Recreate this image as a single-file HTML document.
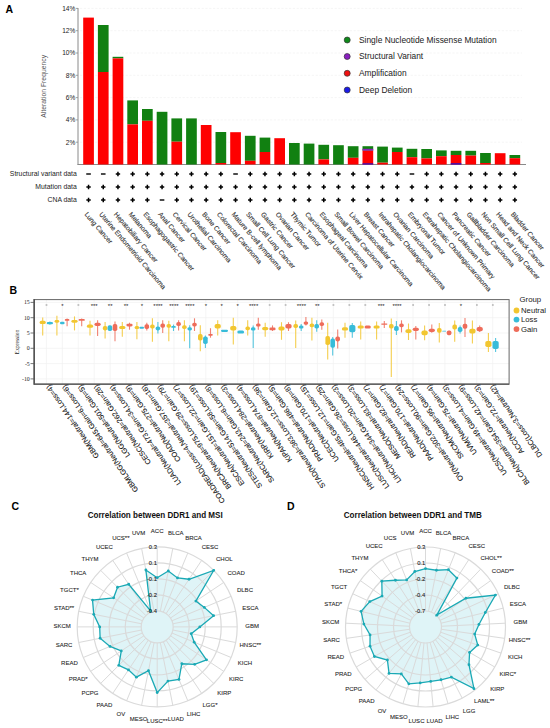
<!DOCTYPE html>
<html><head><meta charset="utf-8"><style>html,body{margin:0;padding:0;background:#fff;}svg{display:block;}</style></head>
<body><svg width="550" height="728" viewBox="0 0 550 728"><text x="5.5" y="13" font-family="Liberation Sans" font-weight="700" font-size="10.5" fill="#000">A</text>
<line x1="80" y1="142.2" x2="522" y2="142.2" stroke="#f2f2f2" stroke-width="0.8" stroke-dasharray="2.2,1.6"/>
<line x1="80" y1="119.9" x2="522" y2="119.9" stroke="#f2f2f2" stroke-width="0.8" stroke-dasharray="2.2,1.6"/>
<line x1="80" y1="97.6" x2="522" y2="97.6" stroke="#f2f2f2" stroke-width="0.8" stroke-dasharray="2.2,1.6"/>
<line x1="80" y1="75.3" x2="522" y2="75.3" stroke="#f2f2f2" stroke-width="0.8" stroke-dasharray="2.2,1.6"/>
<line x1="80" y1="53.0" x2="522" y2="53.0" stroke="#f2f2f2" stroke-width="0.8" stroke-dasharray="2.2,1.6"/>
<line x1="80" y1="30.7" x2="522" y2="30.7" stroke="#f2f2f2" stroke-width="0.8" stroke-dasharray="2.2,1.6"/>
<line x1="80" y1="8.4" x2="522" y2="8.4" stroke="#f2f2f2" stroke-width="0.8" stroke-dasharray="2.2,1.6"/>
<line x1="78" y1="8" x2="78" y2="164.9" stroke="#8a8a8a" stroke-width="1"/>
<line x1="77.5" y1="164.5" x2="526" y2="164.5" stroke="#8a8a8a" stroke-width="1"/>
<line x1="76" y1="142.2" x2="78" y2="142.2" stroke="#8a8a8a" stroke-width="0.8"/>
<text x="75.3" y="144.5" font-family="Liberation Sans" font-size="6.55" fill="#222" text-anchor="end">2%</text>
<line x1="76" y1="119.9" x2="78" y2="119.9" stroke="#8a8a8a" stroke-width="0.8"/>
<text x="75.3" y="122.2" font-family="Liberation Sans" font-size="6.55" fill="#222" text-anchor="end">4%</text>
<line x1="76" y1="97.6" x2="78" y2="97.6" stroke="#8a8a8a" stroke-width="0.8"/>
<text x="75.3" y="99.9" font-family="Liberation Sans" font-size="6.55" fill="#222" text-anchor="end">6%</text>
<line x1="76" y1="75.3" x2="78" y2="75.3" stroke="#8a8a8a" stroke-width="0.8"/>
<text x="75.3" y="77.6" font-family="Liberation Sans" font-size="6.55" fill="#222" text-anchor="end">8%</text>
<line x1="76" y1="53.0" x2="78" y2="53.0" stroke="#8a8a8a" stroke-width="0.8"/>
<text x="75.3" y="55.3" font-family="Liberation Sans" font-size="6.55" fill="#222" text-anchor="end">10%</text>
<line x1="76" y1="30.7" x2="78" y2="30.7" stroke="#8a8a8a" stroke-width="0.8"/>
<text x="75.3" y="33.0" font-family="Liberation Sans" font-size="6.55" fill="#222" text-anchor="end">12%</text>
<line x1="76" y1="8.4" x2="78" y2="8.4" stroke="#8a8a8a" stroke-width="0.8"/>
<text x="75.3" y="10.7" font-family="Liberation Sans" font-size="6.55" fill="#222" text-anchor="end">14%</text>
<text transform="translate(46.3,86.3) rotate(-90)" font-family="Liberation Sans" font-size="6.8" fill="#555" text-anchor="middle">Alteration Frequency</text>
<rect x="83.20" y="17.6" width="10.7" height="146.90" fill="#fe0000"/>
<rect x="97.90" y="25" width="10.7" height="47.00" fill="#118011"/>
<rect x="97.90" y="72" width="10.7" height="92.50" fill="#fe0000"/>
<rect x="112.60" y="56.8" width="10.7" height="1.60" fill="#118011"/>
<rect x="112.60" y="58.4" width="10.7" height="106.10" fill="#fe0000"/>
<rect x="127.30" y="100.4" width="10.7" height="24.00" fill="#118011"/>
<rect x="127.30" y="124.4" width="10.7" height="40.10" fill="#fe0000"/>
<rect x="142.00" y="109" width="10.7" height="11.80" fill="#118011"/>
<rect x="142.00" y="120.8" width="10.7" height="43.70" fill="#fe0000"/>
<rect x="156.70" y="111.8" width="10.7" height="52.70" fill="#118011"/>
<rect x="171.40" y="118.4" width="10.7" height="23.30" fill="#118011"/>
<rect x="171.40" y="141.7" width="10.7" height="22.80" fill="#fe0000"/>
<rect x="186.10" y="118.4" width="10.7" height="46.10" fill="#118011"/>
<rect x="200.80" y="125" width="10.7" height="39.50" fill="#fe0000"/>
<rect x="215.50" y="132" width="10.7" height="31.00" fill="#118011"/>
<rect x="215.50" y="163" width="10.7" height="1.50" fill="#fe0000"/>
<rect x="230.20" y="132.2" width="10.7" height="32.30" fill="#fe0000"/>
<rect x="244.90" y="135.8" width="10.7" height="25.00" fill="#118011"/>
<rect x="244.90" y="160.8" width="10.7" height="3.70" fill="#fe0000"/>
<rect x="259.60" y="137.6" width="10.7" height="14.40" fill="#118011"/>
<rect x="259.60" y="152" width="10.7" height="12.50" fill="#fe0000"/>
<rect x="274.30" y="138.2" width="10.7" height="26.30" fill="#fe0000"/>
<rect x="289.00" y="143" width="10.7" height="21.50" fill="#118011"/>
<rect x="303.70" y="143.6" width="10.7" height="20.90" fill="#118011"/>
<rect x="318.40" y="144.8" width="10.7" height="14.60" fill="#118011"/>
<rect x="318.40" y="159.4" width="10.7" height="5.10" fill="#fe0000"/>
<rect x="333.10" y="145.2" width="10.7" height="19.30" fill="#118011"/>
<rect x="347.80" y="146.2" width="10.7" height="11.60" fill="#118011"/>
<rect x="347.80" y="157.8" width="10.7" height="6.70" fill="#fe0000"/>
<rect x="362.50" y="146.2" width="10.7" height="4.40" fill="#118011"/>
<rect x="362.50" y="150.6" width="10.7" height="13.90" fill="#fe0000"/>
<rect x="377.20" y="146.6" width="10.7" height="16.10" fill="#118011"/>
<rect x="377.20" y="162.7" width="10.7" height="1.80" fill="#fe0000"/>
<rect x="391.90" y="147.6" width="10.7" height="4.40" fill="#118011"/>
<rect x="391.90" y="152" width="10.7" height="12.50" fill="#fe0000"/>
<rect x="406.60" y="148.8" width="10.7" height="8.40" fill="#118011"/>
<rect x="406.60" y="157.2" width="10.7" height="7.30" fill="#fe0000"/>
<rect x="421.30" y="149" width="10.7" height="9.40" fill="#118011"/>
<rect x="421.30" y="158.4" width="10.7" height="6.10" fill="#fe0000"/>
<rect x="436.00" y="150.4" width="10.7" height="5.80" fill="#118011"/>
<rect x="436.00" y="156.2" width="10.7" height="8.30" fill="#fe0000"/>
<rect x="450.70" y="150.8" width="10.7" height="4.20" fill="#118011"/>
<rect x="450.70" y="155" width="10.7" height="9.50" fill="#fe0000"/>
<rect x="465.40" y="150.8" width="10.7" height="4.80" fill="#118011"/>
<rect x="465.40" y="155.6" width="10.7" height="8.90" fill="#fe0000"/>
<rect x="480.10" y="153" width="10.7" height="10.00" fill="#118011"/>
<rect x="480.10" y="163" width="10.7" height="1.50" fill="#fe0000"/>
<rect x="494.80" y="153.2" width="10.7" height="11.30" fill="#fe0000"/>
<rect x="509.50" y="155" width="10.7" height="3.20" fill="#118011"/>
<rect x="509.50" y="158.2" width="10.7" height="6.30" fill="#fe0000"/>
<rect x="362.50" y="148.8" width="10.7" height="1.8" fill="#8e1fb8"/>
<rect x="362.50" y="163.4" width="10.7" height="1.1" fill="#1010e0"/>
<rect x="450.70" y="163.3" width="10.7" height="1.2" fill="#1010e0"/>
<circle cx="347.2" cy="40" r="3" fill="#0f8a1a" stroke="#333" stroke-width="0.7"/>
<text transform="translate(359,42.5) scale(1,1.07)" font-family="Liberation Sans" font-size="8.4" fill="#222">Single Nucleotide Missense Mutation</text>
<circle cx="347.2" cy="56.5" r="3" fill="#8a1fc0" stroke="#333" stroke-width="0.7"/>
<text transform="translate(359,59.0) scale(1,1.07)" font-family="Liberation Sans" font-size="8.4" fill="#222">Structural Variant</text>
<circle cx="347.2" cy="73.3" r="3" fill="#f01010" stroke="#333" stroke-width="0.7"/>
<text transform="translate(359,75.8) scale(1,1.07)" font-family="Liberation Sans" font-size="8.4" fill="#222">Amplification</text>
<circle cx="347.2" cy="90" r="3" fill="#1a1ae8" stroke="#333" stroke-width="0.7"/>
<text transform="translate(359,92.5) scale(1,1.07)" font-family="Liberation Sans" font-size="8.4" fill="#222">Deep Deletion</text>
<text x="76.8" y="176.4" font-family="Liberation Sans" font-size="6.85" fill="#222" text-anchor="end">Structural variant data</text>
<text x="76.8" y="189.4" font-family="Liberation Sans" font-size="6.85" fill="#222" text-anchor="end">Mutation data</text>
<text x="76.8" y="202.4" font-family="Liberation Sans" font-size="6.85" fill="#222" text-anchor="end">CNA data</text>
<rect x="86.25" y="173.3" width="4.6" height="1.4" fill="#000"/>
<path d="M86.35 187 H90.75 M88.55 184.8 V189.2" stroke="#000" stroke-width="1.5"/>
<path d="M86.35 200 H90.75 M88.55 197.8 V202.2" stroke="#000" stroke-width="1.5"/>
<rect x="100.95" y="173.3" width="4.6" height="1.4" fill="#000"/>
<path d="M101.05 187 H105.45 M103.25 184.8 V189.2" stroke="#000" stroke-width="1.5"/>
<path d="M101.05 200 H105.45 M103.25 197.8 V202.2" stroke="#000" stroke-width="1.5"/>
<path d="M115.75 174 H120.15 M117.95 171.8 V176.2" stroke="#000" stroke-width="1.5"/>
<path d="M115.75 187 H120.15 M117.95 184.8 V189.2" stroke="#000" stroke-width="1.5"/>
<path d="M115.75 200 H120.15 M117.95 197.8 V202.2" stroke="#000" stroke-width="1.5"/>
<path d="M130.45 174 H134.85 M132.65 171.8 V176.2" stroke="#000" stroke-width="1.5"/>
<path d="M130.45 187 H134.85 M132.65 184.8 V189.2" stroke="#000" stroke-width="1.5"/>
<path d="M130.45 200 H134.85 M132.65 197.8 V202.2" stroke="#000" stroke-width="1.5"/>
<path d="M145.15 174 H149.55 M147.35 171.8 V176.2" stroke="#000" stroke-width="1.5"/>
<path d="M145.15 187 H149.55 M147.35 184.8 V189.2" stroke="#000" stroke-width="1.5"/>
<path d="M145.15 200 H149.55 M147.35 197.8 V202.2" stroke="#000" stroke-width="1.5"/>
<path d="M159.85 174 H164.25 M162.05 171.8 V176.2" stroke="#000" stroke-width="1.5"/>
<path d="M159.85 187 H164.25 M162.05 184.8 V189.2" stroke="#000" stroke-width="1.5"/>
<rect x="159.75" y="199.3" width="4.6" height="1.4" fill="#000"/>
<path d="M174.55 174 H178.95 M176.75 171.8 V176.2" stroke="#000" stroke-width="1.5"/>
<path d="M174.55 187 H178.95 M176.75 184.8 V189.2" stroke="#000" stroke-width="1.5"/>
<path d="M174.55 200 H178.95 M176.75 197.8 V202.2" stroke="#000" stroke-width="1.5"/>
<path d="M189.25 174 H193.65 M191.45 171.8 V176.2" stroke="#000" stroke-width="1.5"/>
<path d="M189.25 187 H193.65 M191.45 184.8 V189.2" stroke="#000" stroke-width="1.5"/>
<path d="M189.25 200 H193.65 M191.45 197.8 V202.2" stroke="#000" stroke-width="1.5"/>
<path d="M203.95 174 H208.35 M206.15 171.8 V176.2" stroke="#000" stroke-width="1.5"/>
<path d="M203.95 187 H208.35 M206.15 184.8 V189.2" stroke="#000" stroke-width="1.5"/>
<path d="M203.95 200 H208.35 M206.15 197.8 V202.2" stroke="#000" stroke-width="1.5"/>
<path d="M218.65 174 H223.05 M220.85 171.8 V176.2" stroke="#000" stroke-width="1.5"/>
<path d="M218.65 187 H223.05 M220.85 184.8 V189.2" stroke="#000" stroke-width="1.5"/>
<path d="M218.65 200 H223.05 M220.85 197.8 V202.2" stroke="#000" stroke-width="1.5"/>
<rect x="233.25" y="173.3" width="4.6" height="1.4" fill="#000"/>
<path d="M233.35 187 H237.75 M235.55 184.8 V189.2" stroke="#000" stroke-width="1.5"/>
<path d="M233.35 200 H237.75 M235.55 197.8 V202.2" stroke="#000" stroke-width="1.5"/>
<path d="M248.05 174 H252.45 M250.25 171.8 V176.2" stroke="#000" stroke-width="1.5"/>
<path d="M248.05 187 H252.45 M250.25 184.8 V189.2" stroke="#000" stroke-width="1.5"/>
<path d="M248.05 200 H252.45 M250.25 197.8 V202.2" stroke="#000" stroke-width="1.5"/>
<path d="M262.75 174 H267.15 M264.95 171.8 V176.2" stroke="#000" stroke-width="1.5"/>
<path d="M262.75 187 H267.15 M264.95 184.8 V189.2" stroke="#000" stroke-width="1.5"/>
<path d="M262.75 200 H267.15 M264.95 197.8 V202.2" stroke="#000" stroke-width="1.5"/>
<path d="M277.45 174 H281.85 M279.65 171.8 V176.2" stroke="#000" stroke-width="1.5"/>
<path d="M277.45 187 H281.85 M279.65 184.8 V189.2" stroke="#000" stroke-width="1.5"/>
<path d="M277.45 200 H281.85 M279.65 197.8 V202.2" stroke="#000" stroke-width="1.5"/>
<path d="M292.15 174 H296.55 M294.35 171.8 V176.2" stroke="#000" stroke-width="1.5"/>
<path d="M292.15 187 H296.55 M294.35 184.8 V189.2" stroke="#000" stroke-width="1.5"/>
<path d="M292.15 200 H296.55 M294.35 197.8 V202.2" stroke="#000" stroke-width="1.5"/>
<path d="M306.85 174 H311.25 M309.05 171.8 V176.2" stroke="#000" stroke-width="1.5"/>
<path d="M306.85 187 H311.25 M309.05 184.8 V189.2" stroke="#000" stroke-width="1.5"/>
<path d="M306.85 200 H311.25 M309.05 197.8 V202.2" stroke="#000" stroke-width="1.5"/>
<path d="M321.55 174 H325.95 M323.75 171.8 V176.2" stroke="#000" stroke-width="1.5"/>
<path d="M321.55 187 H325.95 M323.75 184.8 V189.2" stroke="#000" stroke-width="1.5"/>
<path d="M321.55 200 H325.95 M323.75 197.8 V202.2" stroke="#000" stroke-width="1.5"/>
<path d="M336.25 174 H340.65 M338.45 171.8 V176.2" stroke="#000" stroke-width="1.5"/>
<path d="M336.25 187 H340.65 M338.45 184.8 V189.2" stroke="#000" stroke-width="1.5"/>
<path d="M336.25 200 H340.65 M338.45 197.8 V202.2" stroke="#000" stroke-width="1.5"/>
<path d="M350.95 174 H355.35 M353.15 171.8 V176.2" stroke="#000" stroke-width="1.5"/>
<path d="M350.95 187 H355.35 M353.15 184.8 V189.2" stroke="#000" stroke-width="1.5"/>
<path d="M350.95 200 H355.35 M353.15 197.8 V202.2" stroke="#000" stroke-width="1.5"/>
<path d="M365.65 174 H370.05 M367.85 171.8 V176.2" stroke="#000" stroke-width="1.5"/>
<path d="M365.65 187 H370.05 M367.85 184.8 V189.2" stroke="#000" stroke-width="1.5"/>
<path d="M365.65 200 H370.05 M367.85 197.8 V202.2" stroke="#000" stroke-width="1.5"/>
<path d="M380.35 174 H384.75 M382.55 171.8 V176.2" stroke="#000" stroke-width="1.5"/>
<path d="M380.35 187 H384.75 M382.55 184.8 V189.2" stroke="#000" stroke-width="1.5"/>
<path d="M380.35 200 H384.75 M382.55 197.8 V202.2" stroke="#000" stroke-width="1.5"/>
<path d="M395.05 174 H399.45 M397.25 171.8 V176.2" stroke="#000" stroke-width="1.5"/>
<path d="M395.05 187 H399.45 M397.25 184.8 V189.2" stroke="#000" stroke-width="1.5"/>
<path d="M395.05 200 H399.45 M397.25 197.8 V202.2" stroke="#000" stroke-width="1.5"/>
<rect x="409.65" y="173.3" width="4.6" height="1.4" fill="#000"/>
<path d="M409.75 187 H414.15 M411.95 184.8 V189.2" stroke="#000" stroke-width="1.5"/>
<path d="M409.75 200 H414.15 M411.95 197.8 V202.2" stroke="#000" stroke-width="1.5"/>
<path d="M424.45 174 H428.85 M426.65 171.8 V176.2" stroke="#000" stroke-width="1.5"/>
<path d="M424.45 187 H428.85 M426.65 184.8 V189.2" stroke="#000" stroke-width="1.5"/>
<path d="M424.45 200 H428.85 M426.65 197.8 V202.2" stroke="#000" stroke-width="1.5"/>
<path d="M439.15 174 H443.55 M441.35 171.8 V176.2" stroke="#000" stroke-width="1.5"/>
<path d="M439.15 187 H443.55 M441.35 184.8 V189.2" stroke="#000" stroke-width="1.5"/>
<path d="M439.15 200 H443.55 M441.35 197.8 V202.2" stroke="#000" stroke-width="1.5"/>
<path d="M453.85 174 H458.25 M456.05 171.8 V176.2" stroke="#000" stroke-width="1.5"/>
<path d="M453.85 187 H458.25 M456.05 184.8 V189.2" stroke="#000" stroke-width="1.5"/>
<path d="M453.85 200 H458.25 M456.05 197.8 V202.2" stroke="#000" stroke-width="1.5"/>
<path d="M468.55 174 H472.95 M470.75 171.8 V176.2" stroke="#000" stroke-width="1.5"/>
<path d="M468.55 187 H472.95 M470.75 184.8 V189.2" stroke="#000" stroke-width="1.5"/>
<path d="M468.55 200 H472.95 M470.75 197.8 V202.2" stroke="#000" stroke-width="1.5"/>
<path d="M483.25 174 H487.65 M485.45 171.8 V176.2" stroke="#000" stroke-width="1.5"/>
<path d="M483.25 187 H487.65 M485.45 184.8 V189.2" stroke="#000" stroke-width="1.5"/>
<path d="M483.25 200 H487.65 M485.45 197.8 V202.2" stroke="#000" stroke-width="1.5"/>
<path d="M497.95 174 H502.35 M500.15 171.8 V176.2" stroke="#000" stroke-width="1.5"/>
<path d="M497.95 187 H502.35 M500.15 184.8 V189.2" stroke="#000" stroke-width="1.5"/>
<path d="M497.95 200 H502.35 M500.15 197.8 V202.2" stroke="#000" stroke-width="1.5"/>
<path d="M512.65 174 H517.05 M514.85 171.8 V176.2" stroke="#000" stroke-width="1.5"/>
<path d="M512.65 187 H517.05 M514.85 184.8 V189.2" stroke="#000" stroke-width="1.5"/>
<path d="M512.65 200 H517.05 M514.85 197.8 V202.2" stroke="#000" stroke-width="1.5"/>
<text transform="translate(84.15,214.5) rotate(49.6)" font-family="Liberation Sans" font-size="6.8" fill="#333" stroke="#333" stroke-width="0.12">Lung Cancer</text>
<text transform="translate(98.85,214.5) rotate(49.6)" font-family="Liberation Sans" font-size="6.8" fill="#333" stroke="#333" stroke-width="0.12">Uterine Endometrioid Carcinoma</text>
<text transform="translate(113.55,214.5) rotate(49.6)" font-family="Liberation Sans" font-size="6.8" fill="#333" stroke="#333" stroke-width="0.12">Hepatobiliary Cancer</text>
<text transform="translate(128.25,214.5) rotate(49.6)" font-family="Liberation Sans" font-size="6.8" fill="#333" stroke="#333" stroke-width="0.12">Melanoma</text>
<text transform="translate(142.95,214.5) rotate(49.6)" font-family="Liberation Sans" font-size="6.8" fill="#333" stroke="#333" stroke-width="0.12">Esophagogastric Cancer</text>
<text transform="translate(157.65,214.5) rotate(49.6)" font-family="Liberation Sans" font-size="6.8" fill="#333" stroke="#333" stroke-width="0.12">Anal Cancer</text>
<text transform="translate(172.35,214.5) rotate(49.6)" font-family="Liberation Sans" font-size="6.8" fill="#333" stroke="#333" stroke-width="0.12">Cervical Cancer</text>
<text transform="translate(187.05,214.5) rotate(49.6)" font-family="Liberation Sans" font-size="6.8" fill="#333" stroke="#333" stroke-width="0.12">Urothelial Carcinoma</text>
<text transform="translate(201.75,214.5) rotate(49.6)" font-family="Liberation Sans" font-size="6.8" fill="#333" stroke="#333" stroke-width="0.12">Bone Cancer</text>
<text transform="translate(216.45,214.5) rotate(49.6)" font-family="Liberation Sans" font-size="6.8" fill="#333" stroke="#333" stroke-width="0.12">Colorectal Carcinoma</text>
<text transform="translate(231.15,214.5) rotate(49.6)" font-family="Liberation Sans" font-size="6.8" fill="#333" stroke="#333" stroke-width="0.12">Mature B-cell lymphoma</text>
<text transform="translate(245.85,214.5) rotate(49.6)" font-family="Liberation Sans" font-size="6.8" fill="#333" stroke="#333" stroke-width="0.12">Small Cell Lung Cancer</text>
<text transform="translate(260.55,214.5) rotate(49.6)" font-family="Liberation Sans" font-size="6.8" fill="#333" stroke="#333" stroke-width="0.12">Gastric Cancer</text>
<text transform="translate(275.25,214.5) rotate(49.6)" font-family="Liberation Sans" font-size="6.8" fill="#333" stroke="#333" stroke-width="0.12">Ovarian Cancer</text>
<text transform="translate(289.95,214.5) rotate(49.6)" font-family="Liberation Sans" font-size="6.8" fill="#333" stroke="#333" stroke-width="0.12">Thymic Tumor</text>
<text transform="translate(304.65,214.5) rotate(49.6)" font-family="Liberation Sans" font-size="6.8" fill="#333" stroke="#333" stroke-width="0.12">Carcinoma of Uterine Cervix</text>
<text transform="translate(319.35,214.5) rotate(49.6)" font-family="Liberation Sans" font-size="6.8" fill="#333" stroke="#333" stroke-width="0.12">Esophageal Carcinoma</text>
<text transform="translate(334.05,214.5) rotate(49.6)" font-family="Liberation Sans" font-size="6.8" fill="#333" stroke="#333" stroke-width="0.12">Small Bowel Carcinoma</text>
<text transform="translate(348.75,214.5) rotate(49.6)" font-family="Liberation Sans" font-size="6.8" fill="#333" stroke="#333" stroke-width="0.12">Liver Hepatocellular Carcinoma</text>
<text transform="translate(363.45,214.5) rotate(49.6)" font-family="Liberation Sans" font-size="6.8" fill="#333" stroke="#333" stroke-width="0.12">Breast Cancer</text>
<text transform="translate(378.15,214.5) rotate(49.6)" font-family="Liberation Sans" font-size="6.8" fill="#333" stroke="#333" stroke-width="0.12">Intrahepatic Cholangiocarcinoma</text>
<text transform="translate(392.85,214.5) rotate(49.6)" font-family="Liberation Sans" font-size="6.8" fill="#333" stroke="#333" stroke-width="0.12">Ovarian Carcinoma</text>
<text transform="translate(407.55,214.5) rotate(49.6)" font-family="Liberation Sans" font-size="6.8" fill="#333" stroke="#333" stroke-width="0.12">Embryonal Tumor</text>
<text transform="translate(422.25,214.5) rotate(49.6)" font-family="Liberation Sans" font-size="6.8" fill="#333" stroke="#333" stroke-width="0.12">Extrahepatic Cholangiocarcinoma</text>
<text transform="translate(436.95,214.5) rotate(49.6)" font-family="Liberation Sans" font-size="6.8" fill="#333" stroke="#333" stroke-width="0.12">Cancer of Unknown Primary</text>
<text transform="translate(451.65,214.5) rotate(49.6)" font-family="Liberation Sans" font-size="6.8" fill="#333" stroke="#333" stroke-width="0.12">Pancreatic Cancer</text>
<text transform="translate(466.35,214.5) rotate(49.6)" font-family="Liberation Sans" font-size="6.8" fill="#333" stroke="#333" stroke-width="0.12">Gallbladder Carcinoma</text>
<text transform="translate(481.05,214.5) rotate(49.6)" font-family="Liberation Sans" font-size="6.8" fill="#333" stroke="#333" stroke-width="0.12">Non Small Cell Lung Cancer</text>
<text transform="translate(495.75,214.5) rotate(49.6)" font-family="Liberation Sans" font-size="6.8" fill="#333" stroke="#333" stroke-width="0.12">Head and Neck Cancer</text>
<text transform="translate(510.45,214.5) rotate(49.6)" font-family="Liberation Sans" font-size="6.8" fill="#333" stroke="#333" stroke-width="0.12">Bladder Cancer</text>
<text x="9.5" y="293.8" font-family="Liberation Sans" font-weight="700" font-size="10.5" fill="#000">B</text>
<line x1="34.2" y1="302.40" x2="509.1" y2="302.40" stroke="#f0f0f0" stroke-width="0.7"/>
<line x1="34.2" y1="317.70" x2="509.1" y2="317.70" stroke="#f0f0f0" stroke-width="0.7"/>
<line x1="34.2" y1="333.00" x2="509.1" y2="333.00" stroke="#f0f0f0" stroke-width="0.7"/>
<line x1="34.2" y1="348.30" x2="509.1" y2="348.30" stroke="#f0f0f0" stroke-width="0.7"/>
<line x1="34.2" y1="363.60" x2="509.1" y2="363.60" stroke="#f0f0f0" stroke-width="0.7"/>
<line x1="34.2" y1="378.90" x2="509.1" y2="378.90" stroke="#f0f0f0" stroke-width="0.7"/>
<line x1="46.40" y1="299.6" x2="46.40" y2="384.2" stroke="#f0f0f0" stroke-width="0.7"/>
<line x1="62.34" y1="299.6" x2="62.34" y2="384.2" stroke="#f0f0f0" stroke-width="0.7"/>
<line x1="78.28" y1="299.6" x2="78.28" y2="384.2" stroke="#f0f0f0" stroke-width="0.7"/>
<line x1="94.22" y1="299.6" x2="94.22" y2="384.2" stroke="#f0f0f0" stroke-width="0.7"/>
<line x1="110.16" y1="299.6" x2="110.16" y2="384.2" stroke="#f0f0f0" stroke-width="0.7"/>
<line x1="126.10" y1="299.6" x2="126.10" y2="384.2" stroke="#f0f0f0" stroke-width="0.7"/>
<line x1="142.04" y1="299.6" x2="142.04" y2="384.2" stroke="#f0f0f0" stroke-width="0.7"/>
<line x1="157.98" y1="299.6" x2="157.98" y2="384.2" stroke="#f0f0f0" stroke-width="0.7"/>
<line x1="173.92" y1="299.6" x2="173.92" y2="384.2" stroke="#f0f0f0" stroke-width="0.7"/>
<line x1="189.86" y1="299.6" x2="189.86" y2="384.2" stroke="#f0f0f0" stroke-width="0.7"/>
<line x1="205.80" y1="299.6" x2="205.80" y2="384.2" stroke="#f0f0f0" stroke-width="0.7"/>
<line x1="221.74" y1="299.6" x2="221.74" y2="384.2" stroke="#f0f0f0" stroke-width="0.7"/>
<line x1="237.68" y1="299.6" x2="237.68" y2="384.2" stroke="#f0f0f0" stroke-width="0.7"/>
<line x1="253.62" y1="299.6" x2="253.62" y2="384.2" stroke="#f0f0f0" stroke-width="0.7"/>
<line x1="269.56" y1="299.6" x2="269.56" y2="384.2" stroke="#f0f0f0" stroke-width="0.7"/>
<line x1="285.50" y1="299.6" x2="285.50" y2="384.2" stroke="#f0f0f0" stroke-width="0.7"/>
<line x1="301.44" y1="299.6" x2="301.44" y2="384.2" stroke="#f0f0f0" stroke-width="0.7"/>
<line x1="317.38" y1="299.6" x2="317.38" y2="384.2" stroke="#f0f0f0" stroke-width="0.7"/>
<line x1="333.32" y1="299.6" x2="333.32" y2="384.2" stroke="#f0f0f0" stroke-width="0.7"/>
<line x1="349.26" y1="299.6" x2="349.26" y2="384.2" stroke="#f0f0f0" stroke-width="0.7"/>
<line x1="365.20" y1="299.6" x2="365.20" y2="384.2" stroke="#f0f0f0" stroke-width="0.7"/>
<line x1="381.14" y1="299.6" x2="381.14" y2="384.2" stroke="#f0f0f0" stroke-width="0.7"/>
<line x1="397.08" y1="299.6" x2="397.08" y2="384.2" stroke="#f0f0f0" stroke-width="0.7"/>
<line x1="413.02" y1="299.6" x2="413.02" y2="384.2" stroke="#f0f0f0" stroke-width="0.7"/>
<line x1="428.96" y1="299.6" x2="428.96" y2="384.2" stroke="#f0f0f0" stroke-width="0.7"/>
<line x1="444.90" y1="299.6" x2="444.90" y2="384.2" stroke="#f0f0f0" stroke-width="0.7"/>
<line x1="460.84" y1="299.6" x2="460.84" y2="384.2" stroke="#f0f0f0" stroke-width="0.7"/>
<line x1="476.78" y1="299.6" x2="476.78" y2="384.2" stroke="#f0f0f0" stroke-width="0.7"/>
<line x1="492.72" y1="299.6" x2="492.72" y2="384.2" stroke="#f0f0f0" stroke-width="0.7"/>
<rect x="34.2" y="299.6" width="474.9" height="84.6" fill="none" stroke="#666" stroke-width="1.0"/>
<line x1="34.2" y1="299.1" x2="34.2" y2="384.7" stroke="#555" stroke-width="1.6"/>
<line x1="34.2" y1="384.2" x2="509.1" y2="384.2" stroke="#555" stroke-width="1.2"/>
<line x1="30.5" y1="302.40" x2="34.2" y2="302.40" stroke="#555" stroke-width="0.8"/>
<text x="29.8" y="304.30" font-family="Liberation Serif" font-size="5.9" fill="#222" text-anchor="end">15</text>
<line x1="30.5" y1="317.70" x2="34.2" y2="317.70" stroke="#555" stroke-width="0.8"/>
<text x="29.8" y="319.60" font-family="Liberation Serif" font-size="5.9" fill="#222" text-anchor="end">10</text>
<line x1="30.5" y1="333.00" x2="34.2" y2="333.00" stroke="#555" stroke-width="0.8"/>
<text x="29.8" y="334.90" font-family="Liberation Serif" font-size="5.9" fill="#222" text-anchor="end">5</text>
<line x1="30.5" y1="348.30" x2="34.2" y2="348.30" stroke="#555" stroke-width="0.8"/>
<text x="29.8" y="350.20" font-family="Liberation Serif" font-size="5.9" fill="#222" text-anchor="end">0</text>
<line x1="30.5" y1="363.60" x2="34.2" y2="363.60" stroke="#555" stroke-width="0.8"/>
<text x="29.8" y="365.50" font-family="Liberation Serif" font-size="5.9" fill="#222" text-anchor="end">-5</text>
<line x1="30.5" y1="378.90" x2="34.2" y2="378.90" stroke="#555" stroke-width="0.8"/>
<text x="29.8" y="380.80" font-family="Liberation Serif" font-size="5.9" fill="#222" text-anchor="end">-10</text>
<text transform="translate(19.2,342) rotate(-90)" font-family="Liberation Serif" font-size="5.5" fill="#222" text-anchor="middle">Expression</text>
<rect x="45.60" y="304.6" width="1.8" height="0.8" fill="#777"/>
<text x="62.34" y="307.9" font-family="Liberation Sans" font-size="6" fill="#222" text-anchor="middle">*</text>
<rect x="77.48" y="304.6" width="1.8" height="0.8" fill="#777"/>
<text x="91.92" y="307.9" font-family="Liberation Sans" font-size="6" fill="#222" text-anchor="middle">*</text>
<text x="94.22" y="307.9" font-family="Liberation Sans" font-size="6" fill="#222" text-anchor="middle">*</text>
<text x="96.52" y="307.9" font-family="Liberation Sans" font-size="6" fill="#222" text-anchor="middle">*</text>
<text x="109.01" y="307.9" font-family="Liberation Sans" font-size="6" fill="#222" text-anchor="middle">*</text>
<text x="111.31" y="307.9" font-family="Liberation Sans" font-size="6" fill="#222" text-anchor="middle">*</text>
<text x="124.95" y="307.9" font-family="Liberation Sans" font-size="6" fill="#222" text-anchor="middle">*</text>
<text x="127.25" y="307.9" font-family="Liberation Sans" font-size="6" fill="#222" text-anchor="middle">*</text>
<text x="142.04" y="307.9" font-family="Liberation Sans" font-size="6" fill="#222" text-anchor="middle">*</text>
<text x="154.53" y="307.9" font-family="Liberation Sans" font-size="6" fill="#222" text-anchor="middle">*</text>
<text x="156.83" y="307.9" font-family="Liberation Sans" font-size="6" fill="#222" text-anchor="middle">*</text>
<text x="159.13" y="307.9" font-family="Liberation Sans" font-size="6" fill="#222" text-anchor="middle">*</text>
<text x="161.43" y="307.9" font-family="Liberation Sans" font-size="6" fill="#222" text-anchor="middle">*</text>
<text x="170.47" y="307.9" font-family="Liberation Sans" font-size="6" fill="#222" text-anchor="middle">*</text>
<text x="172.77" y="307.9" font-family="Liberation Sans" font-size="6" fill="#222" text-anchor="middle">*</text>
<text x="175.07" y="307.9" font-family="Liberation Sans" font-size="6" fill="#222" text-anchor="middle">*</text>
<text x="177.37" y="307.9" font-family="Liberation Sans" font-size="6" fill="#222" text-anchor="middle">*</text>
<text x="186.41" y="307.9" font-family="Liberation Sans" font-size="6" fill="#222" text-anchor="middle">*</text>
<text x="188.71" y="307.9" font-family="Liberation Sans" font-size="6" fill="#222" text-anchor="middle">*</text>
<text x="191.01" y="307.9" font-family="Liberation Sans" font-size="6" fill="#222" text-anchor="middle">*</text>
<text x="193.31" y="307.9" font-family="Liberation Sans" font-size="6" fill="#222" text-anchor="middle">*</text>
<text x="205.80" y="307.9" font-family="Liberation Sans" font-size="6" fill="#222" text-anchor="middle">*</text>
<text x="221.74" y="307.9" font-family="Liberation Sans" font-size="6" fill="#222" text-anchor="middle">*</text>
<text x="237.68" y="307.9" font-family="Liberation Sans" font-size="6" fill="#222" text-anchor="middle">*</text>
<text x="250.17" y="307.9" font-family="Liberation Sans" font-size="6" fill="#222" text-anchor="middle">*</text>
<text x="252.47" y="307.9" font-family="Liberation Sans" font-size="6" fill="#222" text-anchor="middle">*</text>
<text x="254.77" y="307.9" font-family="Liberation Sans" font-size="6" fill="#222" text-anchor="middle">*</text>
<text x="257.07" y="307.9" font-family="Liberation Sans" font-size="6" fill="#222" text-anchor="middle">*</text>
<rect x="268.76" y="304.6" width="1.8" height="0.8" fill="#777"/>
<rect x="284.70" y="304.6" width="1.8" height="0.8" fill="#777"/>
<text x="297.99" y="307.9" font-family="Liberation Sans" font-size="6" fill="#222" text-anchor="middle">*</text>
<text x="300.29" y="307.9" font-family="Liberation Sans" font-size="6" fill="#222" text-anchor="middle">*</text>
<text x="302.59" y="307.9" font-family="Liberation Sans" font-size="6" fill="#222" text-anchor="middle">*</text>
<text x="304.89" y="307.9" font-family="Liberation Sans" font-size="6" fill="#222" text-anchor="middle">*</text>
<text x="316.23" y="307.9" font-family="Liberation Sans" font-size="6" fill="#222" text-anchor="middle">*</text>
<text x="318.53" y="307.9" font-family="Liberation Sans" font-size="6" fill="#222" text-anchor="middle">*</text>
<rect x="332.52" y="304.6" width="1.8" height="0.8" fill="#777"/>
<rect x="348.46" y="304.6" width="1.8" height="0.8" fill="#777"/>
<rect x="364.40" y="304.6" width="1.8" height="0.8" fill="#777"/>
<text x="378.84" y="307.9" font-family="Liberation Sans" font-size="6" fill="#222" text-anchor="middle">*</text>
<text x="381.14" y="307.9" font-family="Liberation Sans" font-size="6" fill="#222" text-anchor="middle">*</text>
<text x="383.44" y="307.9" font-family="Liberation Sans" font-size="6" fill="#222" text-anchor="middle">*</text>
<text x="393.63" y="307.9" font-family="Liberation Sans" font-size="6" fill="#222" text-anchor="middle">*</text>
<text x="395.93" y="307.9" font-family="Liberation Sans" font-size="6" fill="#222" text-anchor="middle">*</text>
<text x="398.23" y="307.9" font-family="Liberation Sans" font-size="6" fill="#222" text-anchor="middle">*</text>
<text x="400.53" y="307.9" font-family="Liberation Sans" font-size="6" fill="#222" text-anchor="middle">*</text>
<rect x="412.22" y="304.6" width="1.8" height="0.8" fill="#777"/>
<rect x="428.16" y="304.6" width="1.8" height="0.8" fill="#777"/>
<rect x="444.10" y="304.6" width="1.8" height="0.8" fill="#777"/>
<text x="460.84" y="307.9" font-family="Liberation Sans" font-size="6" fill="#222" text-anchor="middle">*</text>
<rect x="475.98" y="304.6" width="1.8" height="0.8" fill="#777"/>
<rect x="491.92" y="304.6" width="1.8" height="0.8" fill="#777"/>
<line x1="42.7" y1="317.6" x2="42.7" y2="335.5" stroke="#f2c630" stroke-width="1.1" stroke-opacity="0.85"/>
<rect x="39.60" y="320.8" width="6.2" height="3.20" rx="1.60" fill="#f2c630"/>
<line x1="49.9" y1="321.5" x2="49.9" y2="324.8" stroke="#38bcd9" stroke-width="1.1" stroke-opacity="0.85"/>
<rect x="46.80" y="322" width="6.2" height="2.30" rx="1.15" fill="#38bcd9"/>
<line x1="56.9" y1="315.7" x2="56.9" y2="335.5" stroke="#f2c630" stroke-width="1.1" stroke-opacity="0.85"/>
<rect x="54.60" y="320" width="4.6" height="2.70" rx="1.35" fill="#f2c630"/>
<rect x="60.00" y="321.7" width="4.6" height="2.60" rx="1.30" fill="#38bcd9"/>
<line x1="67.1" y1="318.5" x2="67.1" y2="326.3" stroke="#ee6c5a" stroke-width="1.1" stroke-opacity="0.85"/>
<rect x="64.80" y="319" width="4.6" height="1.80" rx="0.90" fill="#ee6c5a"/>
<line x1="74.5" y1="316.4" x2="74.5" y2="330.4" stroke="#f2c630" stroke-width="1.1" stroke-opacity="0.85"/>
<rect x="71.40" y="320" width="6.2" height="2.70" rx="1.35" fill="#f2c630"/>
<line x1="81.7" y1="318.5" x2="81.7" y2="326.3" stroke="#ee6c5a" stroke-width="1.1" stroke-opacity="0.85"/>
<rect x="78.60" y="319" width="6.2" height="1.80" rx="0.90" fill="#ee6c5a"/>
<line x1="90" y1="320.8" x2="90" y2="335.5" stroke="#f2c630" stroke-width="1.1" stroke-opacity="0.85"/>
<rect x="86.90" y="324.6" width="6.2" height="3.20" rx="1.60" fill="#f2c630"/>
<line x1="97.6" y1="320.2" x2="97.6" y2="336" stroke="#ee6c5a" stroke-width="1.1" stroke-opacity="0.85"/>
<rect x="94.50" y="322.7" width="6.2" height="3.30" rx="1.65" fill="#ee6c5a"/>
<line x1="105.1" y1="322" x2="105.1" y2="338.6" stroke="#f2c630" stroke-width="1.1" stroke-opacity="0.85"/>
<rect x="102.80" y="325.9" width="4.6" height="4.50" rx="1.80" fill="#f2c630"/>
<rect x="107.60" y="325.3" width="4.6" height="5.70" rx="1.80" fill="#38bcd9"/>
<line x1="115" y1="321.5" x2="115" y2="341.2" stroke="#ee6c5a" stroke-width="1.1" stroke-opacity="0.85"/>
<rect x="112.70" y="324" width="4.6" height="7.00" rx="1.80" fill="#ee6c5a"/>
<line x1="122.3" y1="322" x2="122.3" y2="336.7" stroke="#f2c630" stroke-width="1.1" stroke-opacity="0.85"/>
<rect x="119.20" y="326" width="6.2" height="3.00" rx="1.50" fill="#f2c630"/>
<line x1="129.5" y1="322.7" x2="129.5" y2="329.7" stroke="#ee6c5a" stroke-width="1.1" stroke-opacity="0.85"/>
<rect x="126.40" y="323.7" width="6.2" height="2.80" rx="1.40" fill="#ee6c5a"/>
<line x1="136.9" y1="322" x2="136.9" y2="339.3" stroke="#f2c630" stroke-width="1.1" stroke-opacity="0.85"/>
<rect x="134.60" y="326" width="4.6" height="3.00" rx="1.50" fill="#f2c630"/>
<rect x="139.40" y="326.8" width="4.6" height="2.00" rx="1.00" fill="#38bcd9"/>
<line x1="146.8" y1="322.7" x2="146.8" y2="330.4" stroke="#ee6c5a" stroke-width="1.1" stroke-opacity="0.85"/>
<rect x="144.50" y="324.3" width="4.6" height="4.70" rx="1.80" fill="#ee6c5a"/>
<line x1="152.4" y1="318.3" x2="152.4" y2="341.8" stroke="#f2c630" stroke-width="1.1" stroke-opacity="0.85"/>
<rect x="150.10" y="324.6" width="4.6" height="3.90" rx="1.80" fill="#f2c630"/>
<line x1="157.9" y1="322" x2="157.9" y2="333.5" stroke="#38bcd9" stroke-width="1.1" stroke-opacity="0.85"/>
<rect x="155.60" y="326.5" width="4.6" height="3.90" rx="1.80" fill="#38bcd9"/>
<line x1="162.7" y1="320.2" x2="162.7" y2="333" stroke="#ee6c5a" stroke-width="1.1" stroke-opacity="0.85"/>
<rect x="160.40" y="323.4" width="4.6" height="4.40" rx="1.80" fill="#ee6c5a"/>
<line x1="168.8" y1="320.8" x2="168.8" y2="341.2" stroke="#f2c630" stroke-width="1.1" stroke-opacity="0.85"/>
<rect x="166.50" y="324" width="4.6" height="3.80" rx="1.80" fill="#f2c630"/>
<line x1="173.5" y1="324.6" x2="173.5" y2="331" stroke="#38bcd9" stroke-width="1.1" stroke-opacity="0.85"/>
<rect x="171.20" y="326" width="4.6" height="1.80" rx="0.90" fill="#38bcd9"/>
<line x1="178.6" y1="320.2" x2="178.6" y2="330.4" stroke="#ee6c5a" stroke-width="1.1" stroke-opacity="0.85"/>
<rect x="176.30" y="322" width="4.6" height="4.00" rx="1.80" fill="#ee6c5a"/>
<line x1="184.4" y1="320.2" x2="184.4" y2="341.2" stroke="#f2c630" stroke-width="1.1" stroke-opacity="0.85"/>
<rect x="182.10" y="325.3" width="4.6" height="3.70" rx="1.80" fill="#f2c630"/>
<line x1="189.7" y1="325.3" x2="189.7" y2="348.2" stroke="#38bcd9" stroke-width="1.1" stroke-opacity="0.85"/>
<rect x="187.40" y="327.2" width="4.6" height="3.20" rx="1.60" fill="#38bcd9"/>
<line x1="194.5" y1="318.3" x2="194.5" y2="331" stroke="#ee6c5a" stroke-width="1.1" stroke-opacity="0.85"/>
<rect x="192.20" y="322.7" width="4.6" height="3.80" rx="1.80" fill="#ee6c5a"/>
<line x1="200.3" y1="325.3" x2="200.3" y2="351.3" stroke="#f2c630" stroke-width="1.1" stroke-opacity="0.85"/>
<rect x="198.00" y="334" width="4.6" height="6.60" rx="1.80" fill="#f2c630"/>
<line x1="205.4" y1="335.5" x2="205.4" y2="348" stroke="#38bcd9" stroke-width="1.1" stroke-opacity="0.85"/>
<rect x="203.10" y="336.5" width="4.6" height="7.50" rx="1.80" fill="#38bcd9"/>
<line x1="210.5" y1="328.2" x2="210.5" y2="337.7" stroke="#ee6c5a" stroke-width="1.1" stroke-opacity="0.85"/>
<rect x="208.20" y="334" width="4.6" height="1.70" rx="0.85" fill="#ee6c5a"/>
<line x1="217.7" y1="320.2" x2="217.7" y2="335.5" stroke="#f2c630" stroke-width="1.1" stroke-opacity="0.85"/>
<rect x="214.60" y="324" width="6.2" height="4.50" rx="1.80" fill="#f2c630"/>
<rect x="221.00" y="329.7" width="7.0" height="2.20" rx="1.10" fill="#38bcd9"/>
<line x1="233.3" y1="317.7" x2="233.3" y2="344.5" stroke="#f2c630" stroke-width="1.1" stroke-opacity="0.85"/>
<rect x="230.20" y="326" width="6.2" height="4.50" rx="1.80" fill="#f2c630"/>
<rect x="237.30" y="330.5" width="6.8" height="3.10" rx="1.55" fill="#38bcd9"/>
<line x1="247.7" y1="320.3" x2="247.7" y2="335.5" stroke="#f2c630" stroke-width="1.1" stroke-opacity="0.85"/>
<rect x="245.40" y="326.4" width="4.6" height="3.80" rx="1.80" fill="#f2c630"/>
<line x1="253.2" y1="325.4" x2="253.2" y2="348" stroke="#38bcd9" stroke-width="1.1" stroke-opacity="0.85"/>
<rect x="250.90" y="327.3" width="4.6" height="3.20" rx="1.60" fill="#38bcd9"/>
<line x1="258.3" y1="317.7" x2="258.3" y2="329.8" stroke="#ee6c5a" stroke-width="1.1" stroke-opacity="0.85"/>
<rect x="256.00" y="323.5" width="4.6" height="3.10" rx="1.55" fill="#ee6c5a"/>
<line x1="265.2" y1="322.8" x2="265.2" y2="336.8" stroke="#f2c630" stroke-width="1.1" stroke-opacity="0.85"/>
<rect x="262.10" y="326.9" width="6.2" height="3.30" rx="1.65" fill="#f2c630"/>
<line x1="272.5" y1="325.4" x2="272.5" y2="331" stroke="#ee6c5a" stroke-width="1.1" stroke-opacity="0.85"/>
<rect x="269.40" y="327.6" width="6.2" height="2.60" rx="1.30" fill="#ee6c5a"/>
<line x1="281.5" y1="322.2" x2="281.5" y2="339.8" stroke="#f2c630" stroke-width="1.1" stroke-opacity="0.85"/>
<rect x="278.40" y="326.4" width="6.2" height="4.10" rx="1.80" fill="#f2c630"/>
<line x1="288.5" y1="322.2" x2="288.5" y2="331" stroke="#ee6c5a" stroke-width="1.1" stroke-opacity="0.85"/>
<rect x="285.40" y="324" width="6.2" height="4.50" rx="1.80" fill="#ee6c5a"/>
<line x1="295.7" y1="320.5" x2="295.7" y2="348" stroke="#f2c630" stroke-width="1.1" stroke-opacity="0.85"/>
<rect x="293.40" y="324" width="4.6" height="4.00" rx="1.80" fill="#f2c630"/>
<line x1="301.2" y1="324" x2="301.2" y2="331" stroke="#38bcd9" stroke-width="1.1" stroke-opacity="0.85"/>
<rect x="298.90" y="325.4" width="4.6" height="3.10" rx="1.55" fill="#38bcd9"/>
<line x1="305.9" y1="317" x2="305.9" y2="325.4" stroke="#ee6c5a" stroke-width="1.1" stroke-opacity="0.85"/>
<rect x="303.60" y="321.5" width="4.6" height="3.20" rx="1.60" fill="#ee6c5a"/>
<line x1="311.9" y1="317.7" x2="311.9" y2="340.6" stroke="#f2c630" stroke-width="1.1" stroke-opacity="0.85"/>
<rect x="309.60" y="323.5" width="4.6" height="3.80" rx="1.80" fill="#f2c630"/>
<line x1="316.7" y1="320.3" x2="316.7" y2="331.7" stroke="#38bcd9" stroke-width="1.1" stroke-opacity="0.85"/>
<rect x="314.40" y="324" width="4.6" height="4.50" rx="1.80" fill="#38bcd9"/>
<line x1="321.8" y1="319.6" x2="321.8" y2="329.8" stroke="#ee6c5a" stroke-width="1.1" stroke-opacity="0.85"/>
<rect x="319.50" y="322.2" width="4.6" height="3.80" rx="1.80" fill="#ee6c5a"/>
<line x1="327.7" y1="322.7" x2="327.7" y2="359.5" stroke="#f2c630" stroke-width="1.1" stroke-opacity="0.85"/>
<rect x="325.40" y="335.9" width="4.6" height="9.10" rx="1.80" fill="#f2c630"/>
<line x1="332.7" y1="337" x2="332.7" y2="355.5" stroke="#38bcd9" stroke-width="1.1" stroke-opacity="0.85"/>
<rect x="330.40" y="338.6" width="4.6" height="9.10" rx="1.80" fill="#38bcd9"/>
<line x1="337.7" y1="329.5" x2="337.7" y2="348.6" stroke="#ee6c5a" stroke-width="1.1" stroke-opacity="0.85"/>
<rect x="335.40" y="336.4" width="4.6" height="5.00" rx="1.80" fill="#ee6c5a"/>
<line x1="345" y1="322.7" x2="345" y2="337.7" stroke="#f2c630" stroke-width="1.1" stroke-opacity="0.85"/>
<rect x="341.90" y="327.3" width="6.2" height="3.20" rx="1.60" fill="#f2c630"/>
<line x1="352.3" y1="323" x2="352.3" y2="337.7" stroke="#38bcd9" stroke-width="1.1" stroke-opacity="0.85"/>
<rect x="349.20" y="325" width="6.2" height="7.30" rx="1.80" fill="#38bcd9"/>
<line x1="360.7" y1="321.5" x2="360.7" y2="339.4" stroke="#f2c630" stroke-width="1.1" stroke-opacity="0.85"/>
<rect x="357.60" y="325.4" width="6.2" height="3.10" rx="1.55" fill="#f2c630"/>
<rect x="364.60" y="325.4" width="6.2" height="3.10" rx="1.55" fill="#ee6c5a"/>
<line x1="376.6" y1="321.5" x2="376.6" y2="339.4" stroke="#f2c630" stroke-width="1.1" stroke-opacity="0.85"/>
<rect x="373.50" y="325.4" width="6.2" height="3.10" rx="1.55" fill="#f2c630"/>
<line x1="384.3" y1="321" x2="384.3" y2="328" stroke="#ee6c5a" stroke-width="1.1" stroke-opacity="0.85"/>
<rect x="381.20" y="323.5" width="6.2" height="1.20" rx="0.60" fill="#ee6c5a"/>
<line x1="391.3" y1="318.4" x2="391.3" y2="377" stroke="#f2c630" stroke-width="1.1" stroke-opacity="0.85"/>
<rect x="389.00" y="324" width="4.6" height="4.50" rx="1.80" fill="#f2c630"/>
<line x1="396.4" y1="321" x2="396.4" y2="335" stroke="#38bcd9" stroke-width="1.1" stroke-opacity="0.85"/>
<rect x="394.10" y="326" width="4.6" height="5.00" rx="1.80" fill="#38bcd9"/>
<line x1="401.5" y1="320.3" x2="401.5" y2="332.4" stroke="#ee6c5a" stroke-width="1.1" stroke-opacity="0.85"/>
<rect x="399.20" y="323.5" width="4.6" height="3.80" rx="1.80" fill="#ee6c5a"/>
<line x1="408.5" y1="323.5" x2="408.5" y2="340" stroke="#f2c630" stroke-width="1.1" stroke-opacity="0.85"/>
<rect x="405.40" y="329.2" width="6.2" height="3.80" rx="1.80" fill="#f2c630"/>
<line x1="415.8" y1="326" x2="415.8" y2="339.4" stroke="#ee6c5a" stroke-width="1.1" stroke-opacity="0.85"/>
<rect x="412.70" y="327.7" width="6.2" height="3.30" rx="1.65" fill="#ee6c5a"/>
<line x1="424.6" y1="325.5" x2="424.6" y2="340.2" stroke="#f2c630" stroke-width="1.1" stroke-opacity="0.85"/>
<rect x="421.50" y="330.4" width="6.2" height="4.90" rx="1.80" fill="#f2c630"/>
<line x1="431.8" y1="324.6" x2="431.8" y2="332.8" stroke="#ee6c5a" stroke-width="1.1" stroke-opacity="0.85"/>
<rect x="428.70" y="328.7" width="6.2" height="3.30" rx="1.65" fill="#ee6c5a"/>
<line x1="439.3" y1="323" x2="439.3" y2="342.6" stroke="#f2c630" stroke-width="1.1" stroke-opacity="0.85"/>
<rect x="437.00" y="327.9" width="4.6" height="4.90" rx="1.80" fill="#f2c630"/>
<rect x="442.20" y="330.8" width="4.0" height="0.80" rx="0.40" fill="#38bcd9"/>
<rect x="446.80" y="330.4" width="4.6" height="4.90" rx="1.80" fill="#ee6c5a"/>
<line x1="454.7" y1="320.5" x2="454.7" y2="341.8" stroke="#f2c630" stroke-width="1.1" stroke-opacity="0.85"/>
<rect x="452.40" y="324.6" width="4.6" height="4.90" rx="1.80" fill="#f2c630"/>
<line x1="460.1" y1="325.5" x2="460.1" y2="333.6" stroke="#38bcd9" stroke-width="1.1" stroke-opacity="0.85"/>
<rect x="457.80" y="327" width="4.6" height="5.00" rx="1.80" fill="#38bcd9"/>
<line x1="465" y1="318" x2="465" y2="337" stroke="#ee6c5a" stroke-width="1.1" stroke-opacity="0.85"/>
<rect x="462.70" y="323.8" width="4.6" height="4.90" rx="1.80" fill="#ee6c5a"/>
<line x1="472.4" y1="320.5" x2="472.4" y2="343.5" stroke="#f2c630" stroke-width="1.1" stroke-opacity="0.85"/>
<rect x="469.30" y="328.7" width="6.2" height="4.90" rx="1.80" fill="#f2c630"/>
<line x1="479.7" y1="325.5" x2="479.7" y2="332" stroke="#ee6c5a" stroke-width="1.1" stroke-opacity="0.85"/>
<rect x="476.60" y="327" width="6.2" height="4.20" rx="1.80" fill="#ee6c5a"/>
<line x1="488.4" y1="333" x2="488.4" y2="352" stroke="#f2c630" stroke-width="1.1" stroke-opacity="0.85"/>
<rect x="485.30" y="341" width="6.2" height="6.00" rx="1.80" fill="#f2c630"/>
<line x1="495.6" y1="338" x2="495.6" y2="352" stroke="#38bcd9" stroke-width="1.1" stroke-opacity="0.85"/>
<rect x="492.50" y="341" width="6.2" height="8.00" rx="1.80" fill="#38bcd9"/>
<text transform="translate(49.90,384.3) rotate(235.5)" font-family="Liberation Sans" font-size="7.3" fill="#111" stroke="#111" stroke-width="0.1" text-anchor="end">GBM(Neutral=144,Loss=4)</text>
<text transform="translate(65.75,384.3) rotate(235.5)" font-family="Liberation Sans" font-size="7.3" fill="#111" stroke="#111" stroke-width="0.1" text-anchor="end">GBMLGG(Neutral=645,Gain=6,Loss=6)</text>
<text transform="translate(81.60,384.3) rotate(235.5)" font-family="Liberation Sans" font-size="7.3" fill="#111" stroke="#111" stroke-width="0.1" text-anchor="end">LGG(Neutral=501,Gain=5)</text>
<text transform="translate(97.45,384.3) rotate(235.5)" font-family="Liberation Sans" font-size="7.3" fill="#111" stroke="#111" stroke-width="0.1" text-anchor="end">CESC(Neutral=262,Gain=28)</text>
<text transform="translate(113.30,384.3) rotate(235.5)" font-family="Liberation Sans" font-size="7.3" fill="#111" stroke="#111" stroke-width="0.1" text-anchor="end">LUAD(Neutral=473,Gain=34,Loss=4)</text>
<text transform="translate(129.15,384.3) rotate(235.5)" font-family="Liberation Sans" font-size="7.3" fill="#111" stroke="#111" stroke-width="0.1" text-anchor="end">COAD(Neutral=275,Gain=9)</text>
<text transform="translate(145.00,384.3) rotate(235.5)" font-family="Liberation Sans" font-size="7.3" fill="#111" stroke="#111" stroke-width="0.1" text-anchor="end">COADREAD(Loss=4,Neutral=357,Gain=16)</text>
<text transform="translate(160.85,384.3) rotate(235.5)" font-family="Liberation Sans" font-size="7.3" fill="#111" stroke="#111" stroke-width="0.1" text-anchor="end">BRCA(Neutral=975,Loss=29,Gain=79)</text>
<text transform="translate(176.70,384.3) rotate(235.5)" font-family="Liberation Sans" font-size="7.3" fill="#111" stroke="#111" stroke-width="0.1" text-anchor="end">ESCA(Neutral=151,Gain=22,Loss=7)</text>
<text transform="translate(192.55,384.3) rotate(235.5)" font-family="Liberation Sans" font-size="7.3" fill="#111" stroke="#111" stroke-width="0.1" text-anchor="end">STES(Neutral=514,Gain=58,Loss=19)</text>
<text transform="translate(208.40,384.3) rotate(235.5)" font-family="Liberation Sans" font-size="7.3" fill="#111" stroke="#111" stroke-width="0.1" text-anchor="end">SARC(Neutral=243,Gain=6,Loss=8)</text>
<text transform="translate(224.25,384.3) rotate(235.5)" font-family="Liberation Sans" font-size="7.3" fill="#111" stroke="#111" stroke-width="0.1" text-anchor="end">KIRP(Neutral=284,Loss=3)</text>
<text transform="translate(240.10,384.3) rotate(235.5)" font-family="Liberation Sans" font-size="7.3" fill="#111" stroke="#111" stroke-width="0.1" text-anchor="end">KIPAN(Neutral=874,Loss=4)</text>
<text transform="translate(255.95,384.3) rotate(235.5)" font-family="Liberation Sans" font-size="7.3" fill="#111" stroke="#111" stroke-width="0.1" text-anchor="end">STAD(Neutral=363,Loss=12,Gain=36)</text>
<text transform="translate(271.80,384.3) rotate(235.5)" font-family="Liberation Sans" font-size="7.3" fill="#111" stroke="#111" stroke-width="0.1" text-anchor="end">PRAD(Neutral=486,Gain=5)</text>
<text transform="translate(287.65,384.3) rotate(235.5)" font-family="Liberation Sans" font-size="7.3" fill="#111" stroke="#111" stroke-width="0.1" text-anchor="end">UCEC(Neutral=170,Gain=8)</text>
<text transform="translate(303.50,384.3) rotate(235.5)" font-family="Liberation Sans" font-size="7.3" fill="#111" stroke="#111" stroke-width="0.1" text-anchor="end">HNSC(Neutral=485,Gain=12,Loss=15)</text>
<text transform="translate(319.35,384.3) rotate(235.5)" font-family="Liberation Sans" font-size="7.3" fill="#111" stroke="#111" stroke-width="0.1" text-anchor="end">LUSC(Neutral=446,Loss=26,Gain=25)</text>
<text transform="translate(335.20,384.3) rotate(235.5)" font-family="Liberation Sans" font-size="7.3" fill="#111" stroke="#111" stroke-width="0.1" text-anchor="end">LIHC(Neutral=344,Gain=20,Loss=3)</text>
<text transform="translate(351.05,384.3) rotate(235.5)" font-family="Liberation Sans" font-size="7.3" fill="#111" stroke="#111" stroke-width="0.1" text-anchor="end">MESO(Neutral=83,Loss=3)</text>
<text transform="translate(366.90,384.3) rotate(235.5)" font-family="Liberation Sans" font-size="7.3" fill="#111" stroke="#111" stroke-width="0.1" text-anchor="end">READ(Neutral=82,Gain=7)</text>
<text transform="translate(382.75,384.3) rotate(235.5)" font-family="Liberation Sans" font-size="7.3" fill="#111" stroke="#111" stroke-width="0.1" text-anchor="end">PAAD(Neutral=170,Gain=7)</text>
<text transform="translate(398.60,384.3) rotate(235.5)" font-family="Liberation Sans" font-size="7.3" fill="#111" stroke="#111" stroke-width="0.1" text-anchor="end">OV(Neutral=302,Gain=90,Loss=24)</text>
<text transform="translate(414.45,384.3) rotate(235.5)" font-family="Liberation Sans" font-size="7.3" fill="#111" stroke="#111" stroke-width="0.1" text-anchor="end">SKCM(Neutral=95,Gain=7)</text>
<text transform="translate(430.30,384.3) rotate(235.5)" font-family="Liberation Sans" font-size="7.3" fill="#111" stroke="#111" stroke-width="0.1" text-anchor="end">UVM(Neutral=75,Gain=4)</text>
<text transform="translate(446.15,384.3) rotate(235.5)" font-family="Liberation Sans" font-size="7.3" fill="#111" stroke="#111" stroke-width="0.1" text-anchor="end">UCS(Neutral=49,Gain=4,Loss=3)</text>
<text transform="translate(462.00,384.3) rotate(235.5)" font-family="Liberation Sans" font-size="7.3" fill="#111" stroke="#111" stroke-width="0.1" text-anchor="end">BLCA(Neutral=354,Gain=42,Loss=9)</text>
<text transform="translate(477.85,384.3) rotate(235.5)" font-family="Liberation Sans" font-size="7.3" fill="#111" stroke="#111" stroke-width="0.1" text-anchor="end">ACC(Neutral=72,Gain=3)</text>
<text transform="translate(493.70,384.3) rotate(235.5)" font-family="Liberation Sans" font-size="7.3" fill="#111" stroke="#111" stroke-width="0.1" text-anchor="end">DLBC(Loss=3,Neutral=42)</text>
<text x="519.5" y="301.6" font-family="Liberation Sans" font-size="7.8" fill="#222">Group</text>
<circle cx="516.5" cy="310.5" r="2.9" fill="#f2c630"/>
<text x="521" y="313.2" font-family="Liberation Sans" font-size="7.75" fill="#222">Neutral</text>
<circle cx="516.5" cy="319.6" r="2.9" fill="#38bcd9"/>
<text x="521" y="322.3" font-family="Liberation Sans" font-size="7.75" fill="#222">Loss</text>
<circle cx="516.5" cy="329.1" r="2.9" fill="#ee6c5a"/>
<text x="521" y="331.8" font-family="Liberation Sans" font-size="7.75" fill="#222">Gain</text>
<text x="11.5" y="510" font-family="Liberation Sans" font-weight="700" font-size="10.5" fill="#000">C</text>
<text transform="translate(155.2,517.9) scale(1,1.13)" font-family="Liberation Sans" font-weight="700" font-size="8.08" fill="#111" text-anchor="middle">Correlation between DDR1 and MSI</text>
<polygon points="157.20,577.70 168.32,571.00 177.48,577.93 189.03,579.26 213.63,570.47 195.86,601.07 204.32,607.38 213.60,615.68 199.80,626.90 191.23,633.67 194.16,642.21 206.51,659.85 194.61,664.31 181.81,663.73 178.97,679.47 167.97,681.04 157.20,692.60 148.48,670.74 136.38,677.16 128.48,669.89 118.80,665.30 121.28,650.90 109.99,646.46 100.12,638.25 99.70,626.90 93.74,614.28 92.53,600.11 113.63,597.79 117.53,587.23 128.70,584.25 150.58,610.92 145.88,570.01" fill="#dff4f7" stroke="none"/>
<circle cx="157.2" cy="626.9" r="16" fill="none" stroke="#dadada" stroke-width="1.2"/>
<circle cx="157.2" cy="626.9" r="32" fill="none" stroke="#dadada" stroke-width="1.2"/>
<circle cx="157.2" cy="626.9" r="48" fill="none" stroke="#dadada" stroke-width="1.2"/>
<circle cx="157.2" cy="626.9" r="64" fill="none" stroke="#dadada" stroke-width="1.2"/>
<circle cx="157.2" cy="626.9" r="80" fill="none" stroke="#dadada" stroke-width="1.2"/>
<line x1="157.20" y1="610.90" x2="157.20" y2="546.90" stroke="#dadada" stroke-width="1.0"/>
<line x1="160.32" y1="611.21" x2="172.81" y2="548.44" stroke="#dadada" stroke-width="1.0"/>
<line x1="163.32" y1="612.12" x2="187.81" y2="552.99" stroke="#dadada" stroke-width="1.0"/>
<line x1="166.09" y1="613.60" x2="201.65" y2="560.38" stroke="#dadada" stroke-width="1.0"/>
<line x1="168.51" y1="615.59" x2="213.77" y2="570.33" stroke="#dadada" stroke-width="1.0"/>
<line x1="170.50" y1="618.01" x2="223.72" y2="582.45" stroke="#dadada" stroke-width="1.0"/>
<line x1="171.98" y1="620.78" x2="231.11" y2="596.29" stroke="#dadada" stroke-width="1.0"/>
<line x1="172.89" y1="623.78" x2="235.66" y2="611.29" stroke="#dadada" stroke-width="1.0"/>
<line x1="173.20" y1="626.90" x2="237.20" y2="626.90" stroke="#dadada" stroke-width="1.0"/>
<line x1="172.89" y1="630.02" x2="235.66" y2="642.51" stroke="#dadada" stroke-width="1.0"/>
<line x1="171.98" y1="633.02" x2="231.11" y2="657.51" stroke="#dadada" stroke-width="1.0"/>
<line x1="170.50" y1="635.79" x2="223.72" y2="671.35" stroke="#dadada" stroke-width="1.0"/>
<line x1="168.51" y1="638.21" x2="213.77" y2="683.47" stroke="#dadada" stroke-width="1.0"/>
<line x1="166.09" y1="640.20" x2="201.65" y2="693.42" stroke="#dadada" stroke-width="1.0"/>
<line x1="163.32" y1="641.68" x2="187.81" y2="700.81" stroke="#dadada" stroke-width="1.0"/>
<line x1="160.32" y1="642.59" x2="172.81" y2="705.36" stroke="#dadada" stroke-width="1.0"/>
<line x1="157.20" y1="642.90" x2="157.20" y2="706.90" stroke="#dadada" stroke-width="1.0"/>
<line x1="154.08" y1="642.59" x2="141.59" y2="705.36" stroke="#dadada" stroke-width="1.0"/>
<line x1="151.08" y1="641.68" x2="126.59" y2="700.81" stroke="#dadada" stroke-width="1.0"/>
<line x1="148.31" y1="640.20" x2="112.75" y2="693.42" stroke="#dadada" stroke-width="1.0"/>
<line x1="145.89" y1="638.21" x2="100.63" y2="683.47" stroke="#dadada" stroke-width="1.0"/>
<line x1="143.90" y1="635.79" x2="90.68" y2="671.35" stroke="#dadada" stroke-width="1.0"/>
<line x1="142.42" y1="633.02" x2="83.29" y2="657.51" stroke="#dadada" stroke-width="1.0"/>
<line x1="141.51" y1="630.02" x2="78.74" y2="642.51" stroke="#dadada" stroke-width="1.0"/>
<line x1="141.20" y1="626.90" x2="77.20" y2="626.90" stroke="#dadada" stroke-width="1.0"/>
<line x1="141.51" y1="623.78" x2="78.74" y2="611.29" stroke="#dadada" stroke-width="1.0"/>
<line x1="142.42" y1="620.78" x2="83.29" y2="596.29" stroke="#dadada" stroke-width="1.0"/>
<line x1="143.90" y1="618.01" x2="90.68" y2="582.45" stroke="#dadada" stroke-width="1.0"/>
<line x1="145.89" y1="615.59" x2="100.63" y2="570.33" stroke="#dadada" stroke-width="1.0"/>
<line x1="148.31" y1="613.60" x2="112.75" y2="560.38" stroke="#dadada" stroke-width="1.0"/>
<line x1="151.08" y1="612.12" x2="126.59" y2="552.99" stroke="#dadada" stroke-width="1.0"/>
<line x1="154.08" y1="611.21" x2="141.59" y2="548.44" stroke="#dadada" stroke-width="1.0"/>
<polygon points="157.20,577.70 168.32,571.00 177.48,577.93 189.03,579.26 213.63,570.47 195.86,601.07 204.32,607.38 213.60,615.68 199.80,626.90 191.23,633.67 194.16,642.21 206.51,659.85 194.61,664.31 181.81,663.73 178.97,679.47 167.97,681.04 157.20,692.60 148.48,670.74 136.38,677.16 128.48,669.89 118.80,665.30 121.28,650.90 109.99,646.46 100.12,638.25 99.70,626.90 93.74,614.28 92.53,600.11 113.63,597.79 117.53,587.23 128.70,584.25 150.58,610.92 145.88,570.01" fill="none" stroke="#1aa9b5" stroke-width="1.3" stroke-linejoin="miter"/>
<circle cx="157.20" cy="577.70" r="1.4" fill="#1aa9b5"/>
<circle cx="168.32" cy="571.00" r="1.4" fill="#1aa9b5"/>
<circle cx="177.48" cy="577.93" r="1.4" fill="#1aa9b5"/>
<circle cx="189.03" cy="579.26" r="1.4" fill="#1aa9b5"/>
<circle cx="213.63" cy="570.47" r="1.4" fill="#1aa9b5"/>
<circle cx="195.86" cy="601.07" r="1.4" fill="#1aa9b5"/>
<circle cx="204.32" cy="607.38" r="1.4" fill="#1aa9b5"/>
<circle cx="213.60" cy="615.68" r="1.4" fill="#1aa9b5"/>
<circle cx="199.80" cy="626.90" r="1.4" fill="#1aa9b5"/>
<circle cx="191.23" cy="633.67" r="1.4" fill="#1aa9b5"/>
<circle cx="194.16" cy="642.21" r="1.4" fill="#1aa9b5"/>
<circle cx="206.51" cy="659.85" r="1.4" fill="#1aa9b5"/>
<circle cx="194.61" cy="664.31" r="1.4" fill="#1aa9b5"/>
<circle cx="181.81" cy="663.73" r="1.4" fill="#1aa9b5"/>
<circle cx="178.97" cy="679.47" r="1.4" fill="#1aa9b5"/>
<circle cx="167.97" cy="681.04" r="1.4" fill="#1aa9b5"/>
<circle cx="157.20" cy="692.60" r="1.4" fill="#1aa9b5"/>
<circle cx="148.48" cy="670.74" r="1.4" fill="#1aa9b5"/>
<circle cx="136.38" cy="677.16" r="1.4" fill="#1aa9b5"/>
<circle cx="128.48" cy="669.89" r="1.4" fill="#1aa9b5"/>
<circle cx="118.80" cy="665.30" r="1.4" fill="#1aa9b5"/>
<circle cx="121.28" cy="650.90" r="1.4" fill="#1aa9b5"/>
<circle cx="109.99" cy="646.46" r="1.4" fill="#1aa9b5"/>
<circle cx="100.12" cy="638.25" r="1.4" fill="#1aa9b5"/>
<circle cx="99.70" cy="626.90" r="1.4" fill="#1aa9b5"/>
<circle cx="93.74" cy="614.28" r="1.4" fill="#1aa9b5"/>
<circle cx="92.53" cy="600.11" r="1.4" fill="#1aa9b5"/>
<circle cx="113.63" cy="597.79" r="1.4" fill="#1aa9b5"/>
<circle cx="117.53" cy="587.23" r="1.4" fill="#1aa9b5"/>
<circle cx="128.70" cy="584.25" r="1.4" fill="#1aa9b5"/>
<circle cx="150.58" cy="610.92" r="1.4" fill="#1aa9b5"/>
<circle cx="145.88" cy="570.01" r="1.4" fill="#1aa9b5"/>
<text x="156.89999999999998" y="548.90" font-family="Liberation Sans" font-size="5.8" fill="#222" stroke="#222" stroke-width="0.1" text-anchor="end">0.3</text>
<text x="156.89999999999998" y="564.90" font-family="Liberation Sans" font-size="5.8" fill="#222" stroke="#222" stroke-width="0.1" text-anchor="end">0.1</text>
<text x="156.89999999999998" y="580.90" font-family="Liberation Sans" font-size="5.8" fill="#222" stroke="#222" stroke-width="0.1" text-anchor="end">-0.1</text>
<text x="156.89999999999998" y="596.90" font-family="Liberation Sans" font-size="5.8" fill="#222" stroke="#222" stroke-width="0.1" text-anchor="end">-0.2</text>
<text x="156.89999999999998" y="612.90" font-family="Liberation Sans" font-size="5.8" fill="#222" stroke="#222" stroke-width="0.1" text-anchor="end">-0.4</text>
<text x="157.20" y="533.20" font-family="Liberation Sans" font-size="6" fill="#1a1a1a" stroke="#1a1a1a" stroke-width="0.08" text-anchor="middle">ACC</text>
<text x="175.73" y="535.03" font-family="Liberation Sans" font-size="6" fill="#1a1a1a" stroke="#1a1a1a" stroke-width="0.08" text-anchor="middle">BLCA</text>
<text x="193.55" y="540.43" font-family="Liberation Sans" font-size="6" fill="#1a1a1a" stroke="#1a1a1a" stroke-width="0.08" text-anchor="middle">BRCA</text>
<text x="209.98" y="549.21" font-family="Liberation Sans" font-size="6" fill="#1a1a1a" stroke="#1a1a1a" stroke-width="0.08" text-anchor="middle">CESC</text>
<text x="224.38" y="561.02" font-family="Liberation Sans" font-size="6" fill="#1a1a1a" stroke="#1a1a1a" stroke-width="0.08" text-anchor="middle">CHOL</text>
<text x="236.19" y="575.42" font-family="Liberation Sans" font-size="6" fill="#1a1a1a" stroke="#1a1a1a" stroke-width="0.08" text-anchor="middle">COAD</text>
<text x="244.97" y="591.85" font-family="Liberation Sans" font-size="6" fill="#1a1a1a" stroke="#1a1a1a" stroke-width="0.08" text-anchor="middle">DLBC</text>
<text x="250.37" y="609.67" font-family="Liberation Sans" font-size="6" fill="#1a1a1a" stroke="#1a1a1a" stroke-width="0.08" text-anchor="middle">ESCA</text>
<text x="252.20" y="628.20" font-family="Liberation Sans" font-size="6" fill="#1a1a1a" stroke="#1a1a1a" stroke-width="0.08" text-anchor="middle">GBM</text>
<text x="250.37" y="646.73" font-family="Liberation Sans" font-size="6" fill="#1a1a1a" stroke="#1a1a1a" stroke-width="0.08" text-anchor="middle">HNSC**</text>
<text x="244.97" y="664.55" font-family="Liberation Sans" font-size="6" fill="#1a1a1a" stroke="#1a1a1a" stroke-width="0.08" text-anchor="middle">KICH</text>
<text x="236.19" y="680.98" font-family="Liberation Sans" font-size="6" fill="#1a1a1a" stroke="#1a1a1a" stroke-width="0.08" text-anchor="middle">KIRC</text>
<text x="224.38" y="695.38" font-family="Liberation Sans" font-size="6" fill="#1a1a1a" stroke="#1a1a1a" stroke-width="0.08" text-anchor="middle">KIRP</text>
<text x="209.98" y="707.19" font-family="Liberation Sans" font-size="6" fill="#1a1a1a" stroke="#1a1a1a" stroke-width="0.08" text-anchor="middle">LGG*</text>
<text x="193.55" y="715.97" font-family="Liberation Sans" font-size="6" fill="#1a1a1a" stroke="#1a1a1a" stroke-width="0.08" text-anchor="middle">LIHC</text>
<text x="175.73" y="721.37" font-family="Liberation Sans" font-size="6" fill="#1a1a1a" stroke="#1a1a1a" stroke-width="0.08" text-anchor="middle">LUAD</text>
<text x="157.20" y="723.20" font-family="Liberation Sans" font-size="6" fill="#1a1a1a" stroke="#1a1a1a" stroke-width="0.08" text-anchor="middle">LUSC**</text>
<text x="138.67" y="721.37" font-family="Liberation Sans" font-size="6" fill="#1a1a1a" stroke="#1a1a1a" stroke-width="0.08" text-anchor="middle">MESO</text>
<text x="120.85" y="715.97" font-family="Liberation Sans" font-size="6" fill="#1a1a1a" stroke="#1a1a1a" stroke-width="0.08" text-anchor="middle">OV</text>
<text x="104.42" y="707.19" font-family="Liberation Sans" font-size="6" fill="#1a1a1a" stroke="#1a1a1a" stroke-width="0.08" text-anchor="middle">PAAD</text>
<text x="90.02" y="695.38" font-family="Liberation Sans" font-size="6" fill="#1a1a1a" stroke="#1a1a1a" stroke-width="0.08" text-anchor="middle">PCPG</text>
<text x="78.21" y="680.98" font-family="Liberation Sans" font-size="6" fill="#1a1a1a" stroke="#1a1a1a" stroke-width="0.08" text-anchor="middle">PRAD*</text>
<text x="69.43" y="664.55" font-family="Liberation Sans" font-size="6" fill="#1a1a1a" stroke="#1a1a1a" stroke-width="0.08" text-anchor="middle">READ</text>
<text x="64.03" y="646.73" font-family="Liberation Sans" font-size="6" fill="#1a1a1a" stroke="#1a1a1a" stroke-width="0.08" text-anchor="middle">SARC</text>
<text x="62.20" y="628.20" font-family="Liberation Sans" font-size="6" fill="#1a1a1a" stroke="#1a1a1a" stroke-width="0.08" text-anchor="middle">SKCM</text>
<text x="64.03" y="609.67" font-family="Liberation Sans" font-size="6" fill="#1a1a1a" stroke="#1a1a1a" stroke-width="0.08" text-anchor="middle">STAD**</text>
<text x="69.43" y="591.85" font-family="Liberation Sans" font-size="6" fill="#1a1a1a" stroke="#1a1a1a" stroke-width="0.08" text-anchor="middle">TGCT*</text>
<text x="78.21" y="575.42" font-family="Liberation Sans" font-size="6" fill="#1a1a1a" stroke="#1a1a1a" stroke-width="0.08" text-anchor="middle">THCA</text>
<text x="90.02" y="561.02" font-family="Liberation Sans" font-size="6" fill="#1a1a1a" stroke="#1a1a1a" stroke-width="0.08" text-anchor="middle">THYM</text>
<text x="104.42" y="549.21" font-family="Liberation Sans" font-size="6" fill="#1a1a1a" stroke="#1a1a1a" stroke-width="0.08" text-anchor="middle">UCEC</text>
<text x="120.85" y="540.43" font-family="Liberation Sans" font-size="6" fill="#1a1a1a" stroke="#1a1a1a" stroke-width="0.08" text-anchor="middle">UCS**</text>
<text x="138.67" y="535.03" font-family="Liberation Sans" font-size="6" fill="#1a1a1a" stroke="#1a1a1a" stroke-width="0.08" text-anchor="middle">UVM</text>
<text x="287" y="510" font-family="Liberation Sans" font-weight="700" font-size="10.5" fill="#000">D</text>
<text transform="translate(412.8,517.9) scale(1,1.13)" font-family="Liberation Sans" font-weight="700" font-size="8.08" fill="#111" text-anchor="middle">Correlation between DDR1 and TMB</text>
<polygon points="425.50,568.60 436.44,570.24 448.43,569.72 456.91,578.12 436.82,615.13 465.90,598.23 495.45,595.05 485.36,612.48 478.94,624.45 474.69,634.07 477.76,645.09 469.58,652.45 468.96,664.65 473.96,688.63 451.39,677.22 441.00,679.77 430.70,681.45 420.16,682.95 408.82,683.80 401.31,673.93 389.03,673.38 387.41,660.00 374.40,656.50 370.03,646.20 370.07,634.97 363.87,624.06 361.07,611.37 369.83,601.58 382.08,596.08 381.82,581.19 395.44,580.23 406.66,579.93 414.81,571.52" fill="#dff4f7" stroke="none"/>
<circle cx="425.5" cy="627" r="16" fill="none" stroke="#dadada" stroke-width="1.2"/>
<circle cx="425.5" cy="627" r="32" fill="none" stroke="#dadada" stroke-width="1.2"/>
<circle cx="425.5" cy="627" r="48" fill="none" stroke="#dadada" stroke-width="1.2"/>
<circle cx="425.5" cy="627" r="64" fill="none" stroke="#dadada" stroke-width="1.2"/>
<circle cx="425.5" cy="627" r="80" fill="none" stroke="#dadada" stroke-width="1.2"/>
<line x1="425.50" y1="611.00" x2="425.50" y2="547.00" stroke="#dadada" stroke-width="1.0"/>
<line x1="428.53" y1="611.29" x2="440.64" y2="548.45" stroke="#dadada" stroke-width="1.0"/>
<line x1="431.45" y1="612.15" x2="455.23" y2="552.73" stroke="#dadada" stroke-width="1.0"/>
<line x1="434.15" y1="613.54" x2="468.75" y2="559.70" stroke="#dadada" stroke-width="1.0"/>
<line x1="436.54" y1="615.42" x2="480.71" y2="569.10" stroke="#dadada" stroke-width="1.0"/>
<line x1="438.53" y1="617.72" x2="490.67" y2="580.60" stroke="#dadada" stroke-width="1.0"/>
<line x1="440.05" y1="620.35" x2="498.27" y2="593.77" stroke="#dadada" stroke-width="1.0"/>
<line x1="441.05" y1="623.23" x2="503.24" y2="608.14" stroke="#dadada" stroke-width="1.0"/>
<line x1="441.48" y1="626.24" x2="505.41" y2="623.19" stroke="#dadada" stroke-width="1.0"/>
<line x1="441.34" y1="629.28" x2="504.69" y2="638.39" stroke="#dadada" stroke-width="1.0"/>
<line x1="440.62" y1="632.23" x2="501.10" y2="653.17" stroke="#dadada" stroke-width="1.0"/>
<line x1="439.36" y1="635.00" x2="494.78" y2="667.00" stroke="#dadada" stroke-width="1.0"/>
<line x1="437.59" y1="637.48" x2="485.96" y2="679.39" stroke="#dadada" stroke-width="1.0"/>
<line x1="435.39" y1="639.58" x2="474.95" y2="689.88" stroke="#dadada" stroke-width="1.0"/>
<line x1="432.83" y1="641.22" x2="462.16" y2="698.11" stroke="#dadada" stroke-width="1.0"/>
<line x1="430.01" y1="642.35" x2="448.04" y2="703.76" stroke="#dadada" stroke-width="1.0"/>
<line x1="427.02" y1="642.93" x2="433.10" y2="706.64" stroke="#dadada" stroke-width="1.0"/>
<line x1="423.98" y1="642.93" x2="417.90" y2="706.64" stroke="#dadada" stroke-width="1.0"/>
<line x1="420.99" y1="642.35" x2="402.96" y2="703.76" stroke="#dadada" stroke-width="1.0"/>
<line x1="418.17" y1="641.22" x2="388.84" y2="698.11" stroke="#dadada" stroke-width="1.0"/>
<line x1="415.61" y1="639.58" x2="376.05" y2="689.88" stroke="#dadada" stroke-width="1.0"/>
<line x1="413.41" y1="637.48" x2="365.04" y2="679.39" stroke="#dadada" stroke-width="1.0"/>
<line x1="411.64" y1="635.00" x2="356.22" y2="667.00" stroke="#dadada" stroke-width="1.0"/>
<line x1="410.38" y1="632.23" x2="349.90" y2="653.17" stroke="#dadada" stroke-width="1.0"/>
<line x1="409.66" y1="629.28" x2="346.31" y2="638.39" stroke="#dadada" stroke-width="1.0"/>
<line x1="409.52" y1="626.24" x2="345.59" y2="623.19" stroke="#dadada" stroke-width="1.0"/>
<line x1="409.95" y1="623.23" x2="347.76" y2="608.14" stroke="#dadada" stroke-width="1.0"/>
<line x1="410.95" y1="620.35" x2="352.73" y2="593.77" stroke="#dadada" stroke-width="1.0"/>
<line x1="412.47" y1="617.72" x2="360.33" y2="580.60" stroke="#dadada" stroke-width="1.0"/>
<line x1="414.46" y1="615.42" x2="370.29" y2="569.10" stroke="#dadada" stroke-width="1.0"/>
<line x1="416.85" y1="613.54" x2="382.25" y2="559.70" stroke="#dadada" stroke-width="1.0"/>
<line x1="419.55" y1="612.15" x2="395.77" y2="552.73" stroke="#dadada" stroke-width="1.0"/>
<line x1="422.47" y1="611.29" x2="410.36" y2="548.45" stroke="#dadada" stroke-width="1.0"/>
<polygon points="425.50,568.60 436.44,570.24 448.43,569.72 456.91,578.12 436.82,615.13 465.90,598.23 495.45,595.05 485.36,612.48 478.94,624.45 474.69,634.07 477.76,645.09 469.58,652.45 468.96,664.65 473.96,688.63 451.39,677.22 441.00,679.77 430.70,681.45 420.16,682.95 408.82,683.80 401.31,673.93 389.03,673.38 387.41,660.00 374.40,656.50 370.03,646.20 370.07,634.97 363.87,624.06 361.07,611.37 369.83,601.58 382.08,596.08 381.82,581.19 395.44,580.23 406.66,579.93 414.81,571.52" fill="none" stroke="#1aa9b5" stroke-width="1.3" stroke-linejoin="miter"/>
<circle cx="425.50" cy="568.60" r="1.4" fill="#1aa9b5"/>
<circle cx="436.44" cy="570.24" r="1.4" fill="#1aa9b5"/>
<circle cx="448.43" cy="569.72" r="1.4" fill="#1aa9b5"/>
<circle cx="456.91" cy="578.12" r="1.4" fill="#1aa9b5"/>
<circle cx="436.82" cy="615.13" r="1.4" fill="#1aa9b5"/>
<circle cx="465.90" cy="598.23" r="1.4" fill="#1aa9b5"/>
<circle cx="495.45" cy="595.05" r="1.4" fill="#1aa9b5"/>
<circle cx="485.36" cy="612.48" r="1.4" fill="#1aa9b5"/>
<circle cx="478.94" cy="624.45" r="1.4" fill="#1aa9b5"/>
<circle cx="474.69" cy="634.07" r="1.4" fill="#1aa9b5"/>
<circle cx="477.76" cy="645.09" r="1.4" fill="#1aa9b5"/>
<circle cx="469.58" cy="652.45" r="1.4" fill="#1aa9b5"/>
<circle cx="468.96" cy="664.65" r="1.4" fill="#1aa9b5"/>
<circle cx="473.96" cy="688.63" r="1.4" fill="#1aa9b5"/>
<circle cx="451.39" cy="677.22" r="1.4" fill="#1aa9b5"/>
<circle cx="441.00" cy="679.77" r="1.4" fill="#1aa9b5"/>
<circle cx="430.70" cy="681.45" r="1.4" fill="#1aa9b5"/>
<circle cx="420.16" cy="682.95" r="1.4" fill="#1aa9b5"/>
<circle cx="408.82" cy="683.80" r="1.4" fill="#1aa9b5"/>
<circle cx="401.31" cy="673.93" r="1.4" fill="#1aa9b5"/>
<circle cx="389.03" cy="673.38" r="1.4" fill="#1aa9b5"/>
<circle cx="387.41" cy="660.00" r="1.4" fill="#1aa9b5"/>
<circle cx="374.40" cy="656.50" r="1.4" fill="#1aa9b5"/>
<circle cx="370.03" cy="646.20" r="1.4" fill="#1aa9b5"/>
<circle cx="370.07" cy="634.97" r="1.4" fill="#1aa9b5"/>
<circle cx="363.87" cy="624.06" r="1.4" fill="#1aa9b5"/>
<circle cx="361.07" cy="611.37" r="1.4" fill="#1aa9b5"/>
<circle cx="369.83" cy="601.58" r="1.4" fill="#1aa9b5"/>
<circle cx="382.08" cy="596.08" r="1.4" fill="#1aa9b5"/>
<circle cx="381.82" cy="581.19" r="1.4" fill="#1aa9b5"/>
<circle cx="395.44" cy="580.23" r="1.4" fill="#1aa9b5"/>
<circle cx="406.66" cy="579.93" r="1.4" fill="#1aa9b5"/>
<circle cx="414.81" cy="571.52" r="1.4" fill="#1aa9b5"/>
<text x="425.2" y="549.00" font-family="Liberation Sans" font-size="5.8" fill="#222" stroke="#222" stroke-width="0.1" text-anchor="end">0.3</text>
<text x="425.2" y="565.00" font-family="Liberation Sans" font-size="5.8" fill="#222" stroke="#222" stroke-width="0.1" text-anchor="end">0.1</text>
<text x="425.2" y="581.00" font-family="Liberation Sans" font-size="5.8" fill="#222" stroke="#222" stroke-width="0.1" text-anchor="end">-0.2</text>
<text x="425.2" y="597.00" font-family="Liberation Sans" font-size="5.8" fill="#222" stroke="#222" stroke-width="0.1" text-anchor="end">-0.4</text>
<text x="425.2" y="613.00" font-family="Liberation Sans" font-size="5.8" fill="#222" stroke="#222" stroke-width="0.1" text-anchor="end">-0.7</text>
<text x="425.50" y="533.30" font-family="Liberation Sans" font-size="6" fill="#1a1a1a" stroke="#1a1a1a" stroke-width="0.08" text-anchor="middle">ACC</text>
<text x="443.48" y="535.02" font-family="Liberation Sans" font-size="6" fill="#1a1a1a" stroke="#1a1a1a" stroke-width="0.08" text-anchor="middle">BLCA</text>
<text x="460.81" y="540.11" font-family="Liberation Sans" font-size="6" fill="#1a1a1a" stroke="#1a1a1a" stroke-width="0.08" text-anchor="middle">BRCA</text>
<text x="476.86" y="548.38" font-family="Liberation Sans" font-size="6" fill="#1a1a1a" stroke="#1a1a1a" stroke-width="0.08" text-anchor="middle">CESC</text>
<text x="491.06" y="559.55" font-family="Liberation Sans" font-size="6" fill="#1a1a1a" stroke="#1a1a1a" stroke-width="0.08" text-anchor="middle">CHOL**</text>
<text x="502.88" y="573.19" font-family="Liberation Sans" font-size="6" fill="#1a1a1a" stroke="#1a1a1a" stroke-width="0.08" text-anchor="middle">COAD**</text>
<text x="511.92" y="588.84" font-family="Liberation Sans" font-size="6" fill="#1a1a1a" stroke="#1a1a1a" stroke-width="0.08" text-anchor="middle">DLBC</text>
<text x="517.82" y="605.90" font-family="Liberation Sans" font-size="6" fill="#1a1a1a" stroke="#1a1a1a" stroke-width="0.08" text-anchor="middle">ESCA</text>
<text x="520.39" y="623.78" font-family="Liberation Sans" font-size="6" fill="#1a1a1a" stroke="#1a1a1a" stroke-width="0.08" text-anchor="middle">GBM</text>
<text x="519.53" y="641.82" font-family="Liberation Sans" font-size="6" fill="#1a1a1a" stroke="#1a1a1a" stroke-width="0.08" text-anchor="middle">HNSC**</text>
<text x="515.28" y="659.37" font-family="Liberation Sans" font-size="6" fill="#1a1a1a" stroke="#1a1a1a" stroke-width="0.08" text-anchor="middle">KICH</text>
<text x="507.77" y="675.80" font-family="Liberation Sans" font-size="6" fill="#1a1a1a" stroke="#1a1a1a" stroke-width="0.08" text-anchor="middle">KIRC*</text>
<text x="497.30" y="690.51" font-family="Liberation Sans" font-size="6" fill="#1a1a1a" stroke="#1a1a1a" stroke-width="0.08" text-anchor="middle">KIRP</text>
<text x="484.23" y="702.98" font-family="Liberation Sans" font-size="6" fill="#1a1a1a" stroke="#1a1a1a" stroke-width="0.08" text-anchor="middle">LAML**</text>
<text x="469.03" y="712.74" font-family="Liberation Sans" font-size="6" fill="#1a1a1a" stroke="#1a1a1a" stroke-width="0.08" text-anchor="middle">LGG</text>
<text x="452.26" y="719.45" font-family="Liberation Sans" font-size="6" fill="#1a1a1a" stroke="#1a1a1a" stroke-width="0.08" text-anchor="middle">LIHC</text>
<text x="434.53" y="722.87" font-family="Liberation Sans" font-size="6" fill="#1a1a1a" stroke="#1a1a1a" stroke-width="0.08" text-anchor="middle">LUAD</text>
<text x="416.47" y="722.87" font-family="Liberation Sans" font-size="6" fill="#1a1a1a" stroke="#1a1a1a" stroke-width="0.08" text-anchor="middle">LUSC</text>
<text x="398.74" y="719.45" font-family="Liberation Sans" font-size="6" fill="#1a1a1a" stroke="#1a1a1a" stroke-width="0.08" text-anchor="middle">MESO</text>
<text x="381.97" y="712.74" font-family="Liberation Sans" font-size="6" fill="#1a1a1a" stroke="#1a1a1a" stroke-width="0.08" text-anchor="middle">OV</text>
<text x="366.77" y="702.98" font-family="Liberation Sans" font-size="6" fill="#1a1a1a" stroke="#1a1a1a" stroke-width="0.08" text-anchor="middle">PAAD</text>
<text x="353.70" y="690.51" font-family="Liberation Sans" font-size="6" fill="#1a1a1a" stroke="#1a1a1a" stroke-width="0.08" text-anchor="middle">PCPG</text>
<text x="343.23" y="675.80" font-family="Liberation Sans" font-size="6" fill="#1a1a1a" stroke="#1a1a1a" stroke-width="0.08" text-anchor="middle">PRAD</text>
<text x="335.72" y="659.37" font-family="Liberation Sans" font-size="6" fill="#1a1a1a" stroke="#1a1a1a" stroke-width="0.08" text-anchor="middle">READ</text>
<text x="331.47" y="641.82" font-family="Liberation Sans" font-size="6" fill="#1a1a1a" stroke="#1a1a1a" stroke-width="0.08" text-anchor="middle">SARC</text>
<text x="330.61" y="623.78" font-family="Liberation Sans" font-size="6" fill="#1a1a1a" stroke="#1a1a1a" stroke-width="0.08" text-anchor="middle">SKCM</text>
<text x="333.18" y="605.90" font-family="Liberation Sans" font-size="6" fill="#1a1a1a" stroke="#1a1a1a" stroke-width="0.08" text-anchor="middle">STAD*</text>
<text x="339.08" y="588.84" font-family="Liberation Sans" font-size="6" fill="#1a1a1a" stroke="#1a1a1a" stroke-width="0.08" text-anchor="middle">TGCT</text>
<text x="348.12" y="573.19" font-family="Liberation Sans" font-size="6" fill="#1a1a1a" stroke="#1a1a1a" stroke-width="0.08" text-anchor="middle">THCA*</text>
<text x="359.94" y="559.55" font-family="Liberation Sans" font-size="6" fill="#1a1a1a" stroke="#1a1a1a" stroke-width="0.08" text-anchor="middle">THYM</text>
<text x="374.14" y="548.38" font-family="Liberation Sans" font-size="6" fill="#1a1a1a" stroke="#1a1a1a" stroke-width="0.08" text-anchor="middle">UCEC</text>
<text x="390.19" y="540.11" font-family="Liberation Sans" font-size="6" fill="#1a1a1a" stroke="#1a1a1a" stroke-width="0.08" text-anchor="middle">UCS</text>
<text x="407.52" y="535.02" font-family="Liberation Sans" font-size="6" fill="#1a1a1a" stroke="#1a1a1a" stroke-width="0.08" text-anchor="middle">UVM</text></svg></body></html>
